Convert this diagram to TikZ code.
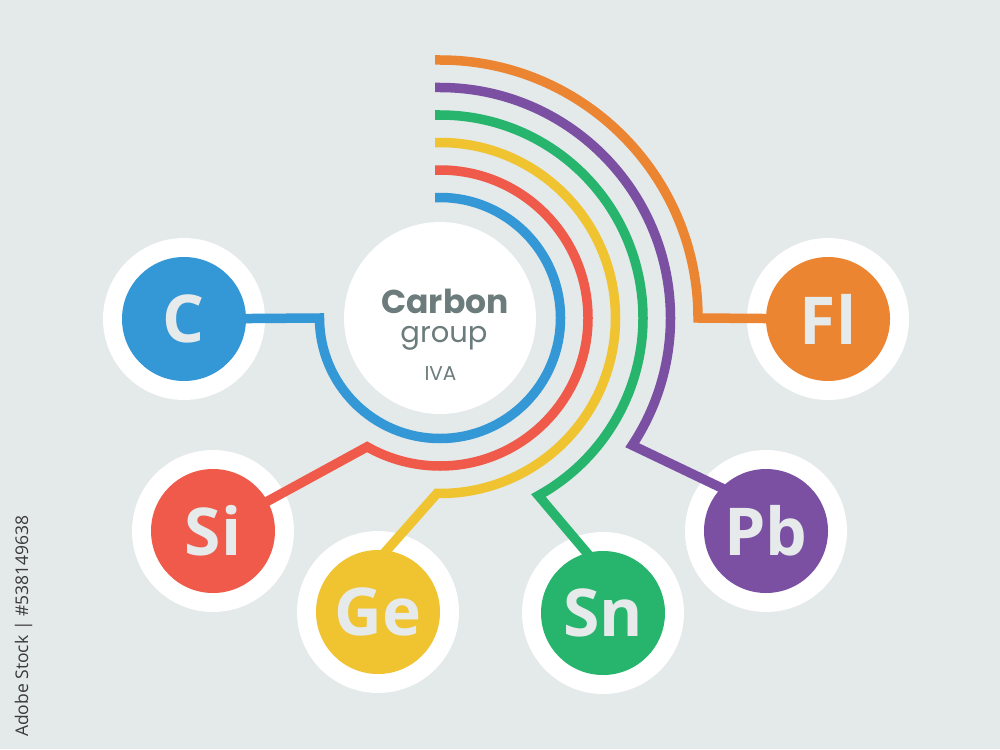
\documentclass[tikz,border=0pt]{standalone}
\usepackage{fontspec}
\setmainfont{Open Sans}
\newfontfamily\popfont{Poppins}
\pgfdeclarelayer{bglayer}
\pgfdeclarelayer{ringlayer}
\pgfdeclarelayer{linelayer}
\pgfsetlayers{bglayer,ringlayer,linelayer,main}
\definecolor{bg}{HTML}{E4E9EA}
\definecolor{cblue}{HTML}{3497D6}
\definecolor{cred}{HTML}{EF5A4A}
\definecolor{cyellow}{HTML}{F0C330}
\definecolor{cgreen}{HTML}{27B56D}
\definecolor{cpurple}{HTML}{7B50A3}
\definecolor{corange}{HTML}{EC8532}
\definecolor{ctext}{HTML}{6C7B7B}
\definecolor{symtext}{HTML}{E6EAEB}
\definecolor{wmtext}{HTML}{3A3A3A}
\begin{document}
\begin{tikzpicture}[x=1pt,y=1pt,
  elem/.style={circle, fill=#1, minimum size=124pt, inner sep=0pt, text=symtext,
    font=\fontsize{66}{66}\selectfont\bfseries},
  ring/.style={circle, fill=white, minimum size=162pt, inner sep=0pt},
  wire/.style={line width=9.5pt, draw=#1, line join=miter},
  hubtext/.style={anchor=base, text=ctext, inner sep=0pt}
]
\begin{pgfonlayer}{bglayer}
  \fill[bg] (0,0) rectangle (1000,-749);
\end{pgfonlayer}
\useasboundingbox (0,0) rectangle (1000,-749);

% hub
\node[circle, fill=white, minimum size=192pt, inner sep=0pt] (hub) at (440,-318) {};
\node[hubtext, font=\fontsize{33}{33}\selectfont\popfont\bfseries] (t1) at (445,-313) {Carbon};
\node[hubtext, font=\fontsize{29}{29}\selectfont\popfont] (t2) at (444,-342) {group};
\node[hubtext, font=\fontsize{20}{20}\selectfont\popfont] (t3) at (440.5,-380) {IVA};

% elements
\node[elem=cblue]   (C)  at (184,-319) {C};
\node[elem=cred]    (Si) at (213,-531) {Si};
\node[elem=cyellow] (Ge) at (378,-612) {Ge};
\node[elem=cgreen]  (Sn) at (603,-613) {Sn};
\node[elem=cpurple] (Pb) at (766,-531) {Pb};
\node[elem=corange] (Fl) at (828,-319) {Fl};

\begin{pgfonlayer}{ringlayer}
  \foreach \n in {C,Si,Ge,Sn,Pb,Fl} \node[ring] (\n-ring) at (\n.center) {};
\end{pgfonlayer}

% arc starts
\coordinate (sB) at (435,-197.5);
\coordinate (sR) at (435,-170);
\coordinate (sY) at (435,-142.5);
\coordinate (sG) at (435,-115);
\coordinate (sP) at (435,-87.5);
\coordinate (sO) at (435,-60);

\begin{pgfonlayer}{linelayer}
  \draw[wire=cblue] (sB) -- ++(5,0) arc[start angle=90, end angle=-180, radius=120.5] -- (C.center);
  \draw[wire=cred] (sR) -- ++(5,0) arc[start angle=90, end angle=-119.5, radius=148] -- (Si.center);
  \draw[wire=cyellow, shorten >=-10pt] (sY) -- ++(5,0) arc[start angle=90, end angle=-91, radius=175.5] -- (Ge.82);
  \draw[wire=cgreen, shorten >=-10pt] (sG) -- ++(5,0) arc[start angle=90, end angle=-61, radius=203] -- (Sn.105);
  \draw[wire=cpurple, shorten >=-10pt] (sP) -- ++(5,0) arc[start angle=90, end angle=-33.5, radius=230.5] -- (Pb.136);
  \draw[wire=corange] (sO) -- ++(5,0) arc[start angle=90, end angle=0, radius=258] -- (Fl.center);
\end{pgfonlayer}

% side label
\node[rotate=90, anchor=base west, text=wmtext, inner sep=0pt,
  font=\fontsize{17.5}{17.5}\selectfont] (wm) at (28,-737) {Adobe Stock | \#538149638};
\end{tikzpicture}
\end{document}
